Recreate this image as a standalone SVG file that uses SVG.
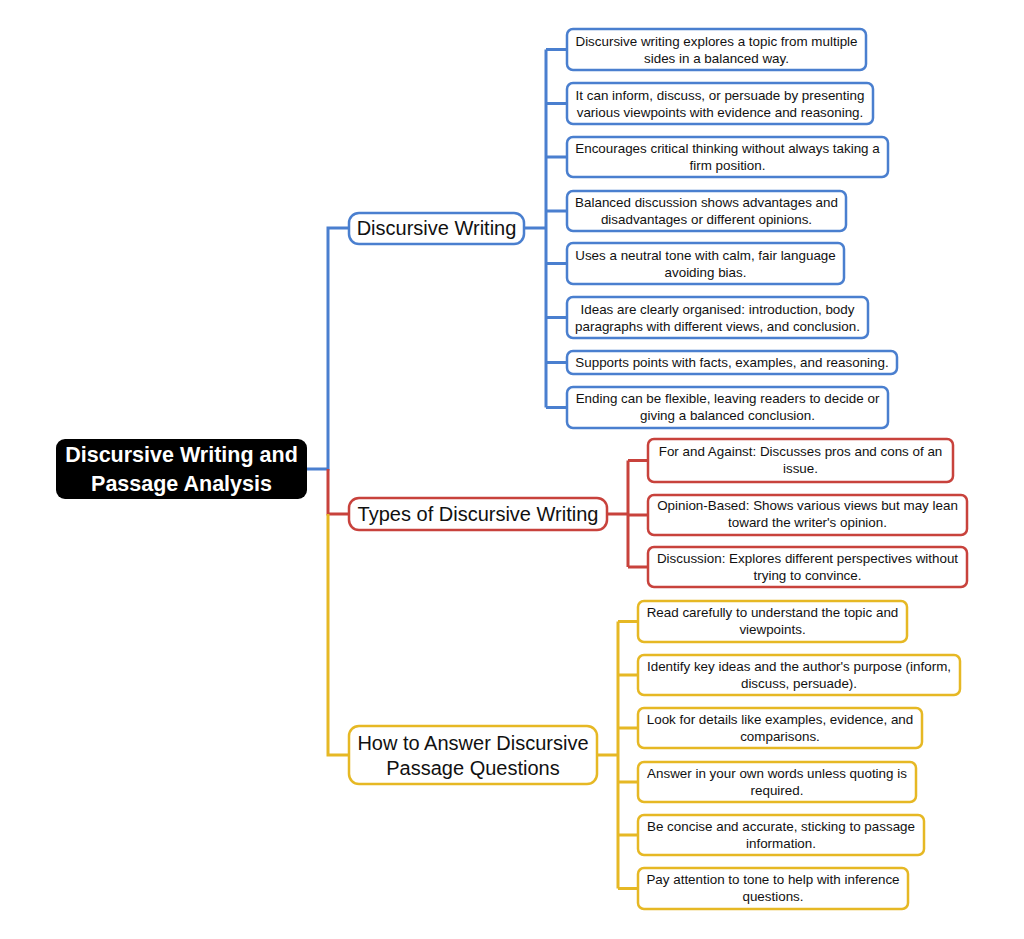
<svg xmlns="http://www.w3.org/2000/svg" width="1024" height="939" viewBox="0 0 1024 939">
<style>
text{font-family:"Liberation Sans",Arial,sans-serif;fill:#111;text-anchor:middle}
.leaf{font-size:13.4px}
.br{font-size:20px}
.root{font-size:21.5px;font-weight:bold;fill:#fff}
.b{stroke:#4a7fcf}
.r{stroke:#c8423c}
.y{stroke:#e6b824}
.box{fill:#fff;stroke-width:2.5}
.line{fill:none;stroke-width:3}
</style>
<rect width="1024" height="939" fill="#fff"/>
<g id="connectors">
<path class="line b" d="M307 469H328V228H349"/>
<path class="line r" d="M328 469V514H349"/>
<path class="line y" d="M328 514V755H349"/>
<path class="line b" d="M524 228H546M546 49.5V407.5M546 49.5H567M546 103.5H567M546 157H567M546 211H567M546 263.5H567M546 317.5H567M546 362.5H567M546 407.5H567"/>
<path class="line r" d="M607 514H628M628 460.5V567M628 460.5H648M628 515H648M628 567H648"/>
<path class="line y" d="M597 755H618M618 621.5V888.5M618 621.5H638M618 675H638M618 728H638M618 782H638M618 835H638M618 888.5H638"/>
</g>
<g id="root">
<rect x="56" y="439" width="251" height="60" rx="9" fill="#000"/>
<text class="root" x="181.5" y="462">Discursive Writing and</text>
<text class="root" x="181.5" y="491">Passage Analysis</text>
</g>
<g id="n-discursive">
<rect class="box b" x="349" y="213" width="175" height="31" rx="10"/>
<text class="br" x="436.5" y="235">Discursive Writing</text>
</g>
<g id="n-types">
<rect class="box r" x="349" y="498" width="258" height="32" rx="10"/>
<text class="br" x="478" y="521">Types of Discursive Writing</text>
</g>
<g id="n-how">
<rect class="box y" x="349" y="726" width="248" height="58" rx="10"/>
<text class="br" x="473" y="750">How to Answer Discursive</text>
<text class="br" x="473" y="775">Passage Questions</text>
</g>
<g id="b1">
<rect class="box b" x="567" y="29" width="299" height="41" rx="6"/>
<text class="leaf" x="716.5" y="46">Discursive writing explores a topic from multiple</text>
<text class="leaf" x="716.5" y="63">sides in a balanced way.</text>
</g>
<g id="b2">
<rect class="box b" x="567" y="83" width="306" height="41" rx="6"/>
<text class="leaf" x="720" y="100">It can inform, discuss, or persuade by presenting</text>
<text class="leaf" x="720" y="117">various viewpoints with evidence and reasoning.</text>
</g>
<g id="b3">
<rect class="box b" x="567" y="137" width="321" height="40" rx="6"/>
<text class="leaf" x="727.5" y="153">Encourages critical thinking without always taking a</text>
<text class="leaf" x="727.5" y="170">firm position.</text>
</g>
<g id="b4">
<rect class="box b" x="567" y="191" width="279" height="40" rx="6"/>
<text class="leaf" x="706.5" y="207">Balanced discussion shows advantages and</text>
<text class="leaf" x="706.5" y="224">disadvantages or different opinions.</text>
</g>
<g id="b5">
<rect class="box b" x="567" y="243" width="277" height="41" rx="6"/>
<text class="leaf" x="705.5" y="260">Uses a neutral tone with calm, fair language</text>
<text class="leaf" x="705.5" y="277">avoiding bias.</text>
</g>
<g id="b6">
<rect class="box b" x="567" y="297" width="301" height="41" rx="6"/>
<text class="leaf" x="717.5" y="314">Ideas are clearly organised: introduction, body</text>
<text class="leaf" x="717.5" y="331">paragraphs with different views, and conclusion.</text>
</g>
<g id="b7">
<rect class="box b" x="567" y="351" width="330" height="23" rx="6"/>
<text class="leaf" x="732" y="367">Supports points with facts, examples, and reasoning.</text>
</g>
<g id="b8">
<rect class="box b" x="567" y="387" width="321" height="41" rx="6"/>
<text class="leaf" x="727.5" y="403">Ending can be flexible, leaving readers to decide or</text>
<text class="leaf" x="727.5" y="420">giving a balanced conclusion.</text>
</g>
<g id="r1">
<rect class="box r" x="648" y="439" width="305" height="43" rx="6"/>
<text class="leaf" x="800.5" y="456">For and Against: Discusses pros and cons of an</text>
<text class="leaf" x="800.5" y="473">issue.</text>
</g>
<g id="r2">
<rect class="box r" x="648" y="495" width="319" height="40" rx="6"/>
<text class="leaf" x="807.5" y="510">Opinion-Based: Shows various views but may lean</text>
<text class="leaf" x="807.5" y="527">toward the writer's opinion.</text>
</g>
<g id="r3">
<rect class="box r" x="648" y="547" width="319" height="40" rx="6"/>
<text class="leaf" x="807.5" y="563">Discussion: Explores different perspectives without</text>
<text class="leaf" x="807.5" y="580">trying to convince.</text>
</g>
<g id="y1">
<rect class="box y" x="638" y="601" width="269" height="41" rx="6"/>
<text class="leaf" x="772.5" y="617">Read carefully to understand the topic and</text>
<text class="leaf" x="772.5" y="634">viewpoints.</text>
</g>
<g id="y2">
<rect class="box y" x="638" y="655" width="322" height="40" rx="6"/>
<text class="leaf" x="799" y="671">Identify key ideas and the author's purpose (inform,</text>
<text class="leaf" x="799" y="688">discuss, persuade).</text>
</g>
<g id="y3">
<rect class="box y" x="638" y="708" width="284" height="40" rx="6"/>
<text class="leaf" x="780" y="724">Look for details like examples, evidence, and</text>
<text class="leaf" x="780" y="741">comparisons.</text>
</g>
<g id="y4">
<rect class="box y" x="638" y="762" width="278" height="40" rx="6"/>
<text class="leaf" x="777" y="778">Answer in your own words unless quoting is</text>
<text class="leaf" x="777" y="795">required.</text>
</g>
<g id="y5">
<rect class="box y" x="638" y="815" width="286" height="40" rx="6"/>
<text class="leaf" x="781" y="831">Be concise and accurate, sticking to passage</text>
<text class="leaf" x="781" y="848">information.</text>
</g>
<g id="y6">
<rect class="box y" x="638" y="868" width="270" height="41" rx="6"/>
<text class="leaf" x="773" y="884">Pay attention to tone to help with inference</text>
<text class="leaf" x="773" y="901">questions.</text>
</g>
</svg>
